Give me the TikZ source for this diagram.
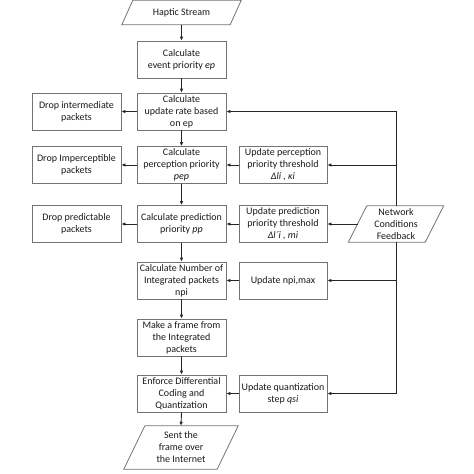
\documentclass[tikz,border=0pt]{standalone}
\usepackage{fontspec}
\setmainfont{Carlito}
\usetikzlibrary{arrows.meta}
\begin{document}
\begin{tikzpicture}[x=1pt,y=-1pt,
  lbl/.style={font=\fontsize{10}{12}\selectfont, text=black!90, align=center, inner sep=1pt},
  box/.style={lbl, draw=black!55, line width=0.8pt, minimum width=89pt, minimum height=37pt},
  shp/.style={draw=black!55, line width=0.8pt, line join=miter},
  arr/.style={-{Latex[length=4pt,width=3.6pt]}, line width=0.9pt, draw=black!85}]
\useasboundingbox (0,0) rectangle (474,474);
% input / output parallelogram text holders
\node[lbl, minimum width=108pt, minimum height=24pt] (hs) at (181.5,12.5) {Haptic Stream};
\node[lbl, minimum width=93pt, minimum height=43pt] (sent) at (181,447.5) {Sent the\\frame over\\the Internet};
\node[lbl, minimum width=76.5pt, minimum height=36pt] (net) at (396,224) {Network\\Conditions\\Feedback};
\draw[shp] ([xshift=5.5pt]hs.north west) -- ([xshift=5.5pt]hs.north east) -- ([xshift=-5.5pt]hs.south east) -- ([xshift=-5.5pt]hs.south west) -- cycle;
\draw[shp] ([xshift=10.5pt]sent.north west) -- ([xshift=10.5pt]sent.north east) -- ([xshift=-10.5pt]sent.south east) -- ([xshift=-10.5pt]sent.south west) -- cycle;
\draw[shp] ([xshift=9.25pt]net.north west) -- ([xshift=9.25pt]net.north east) -- ([xshift=-9.25pt]net.south east) -- ([xshift=-9.25pt]net.south west) -- cycle;
\coordinate (netw) at (net.west);
% main column
\node[box] (e1) at (181.5,59.5) {Calculate\\event priority \textit{ep}};
\node[box] (e2) at (181.5,111.5) {Calculate\\update rate based\\on ep};
\node[box] (e3) at (181.5,165) {Calculate\\perception priority\\\textit{pep}};
\node[box] (e4) at (181.5,224) {Calculate prediction\\priority \textit{pp}};
\node[box] (e5) at (181.5,280.5) {Calculate Number of\\Integrated packets\\npi};
\node[box] (e6) at (181.5,337.5) {Make a frame from\\the Integrated\\packets};
\node[box] (e7) at (181.5,393.5) {Enforce Differential\\Coding and\\Quantization};
% left column
\node[box] (d2) at (76.5,111.5) {Drop intermediate\\packets};
\node[box] (d3) at (76.5,165) {Drop Imperceptible\\packets};
\node[box] (d4) at (76.5,224) {Drop predictable\\packets};
% right column
\node[box, minimum width=88pt] (u3) at (283,165) {Update perception\\priority threshold\\\textit{Δli , κi}};
\node[box, minimum width=88pt] (u4) at (283,224) {Update prediction\\priority threshold\\\textit{Δl´i , mi}};
\node[box, minimum width=88pt] (u5) at (283,280.5) {Update npi,max};
\node[box, minimum width=88pt] (u7) at (283,393.5) {Update quantization\\step \textit{qsi}};
% main flow
\draw[arr] (hs.south) -- (e1.north);
\draw[arr] (e1) -- (e2);
\draw[arr] (e2) -- (e3);
\draw[arr] (e3) -- (e4);
\draw[arr] (e4) -- (e5);
\draw[arr] (e5) -- (e6);
\draw[arr] (e6) -- (e7);
\draw[arr] (e7.south) -- (sent.north);
% drops
\draw[arr] (e2) -- (d2);
\draw[arr] (e3) -- (d3);
\draw[arr] (e4) -- (d4);
% updates
\draw[arr] (u3) -- (e3);
\draw[arr] (u4) -- (e4);
\draw[arr] (u5) -- (e5);
\draw[arr] (u7) -- (e7);
% feedback
\draw[arr] (net.north) |- (e2.east);
\draw[arr] (net.north) |- (u3.east);
\draw[arr] (netw) -- (u4.east);
\draw[arr] (net.south) |- (u5.east);
\draw[arr] (net.south) |- (u7.east);
\end{tikzpicture}
\end{document}
